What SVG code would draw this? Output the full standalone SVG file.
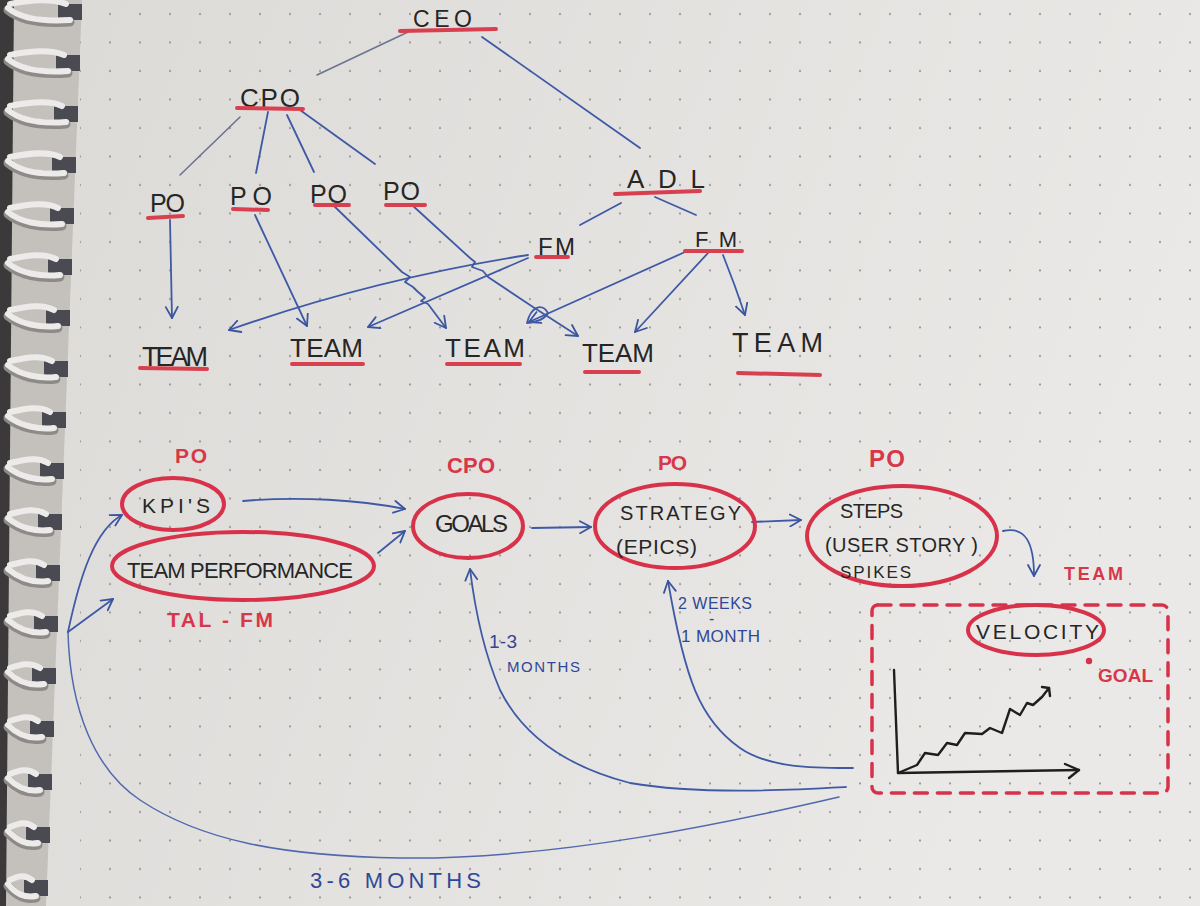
<svg xmlns="http://www.w3.org/2000/svg" width="1200" height="906" viewBox="0 0 1200 906">
<defs>
<linearGradient id="paper" x1="0" y1="0" x2="1" y2="0.3">
<stop offset="0" stop-color="#dcdad7"/>
<stop offset="1" stop-color="#ebe9e7"/>
</linearGradient>
<pattern id="dots" x="5" y="0" width="30" height="28.5" patternUnits="userSpaceOnUse">
<circle cx="15" cy="14" r="1.1" fill="#8e8b88"/>
</pattern>
<marker id="arr" viewBox="0 0 14 14" refX="12" refY="7" markerWidth="14" markerHeight="14" markerUnits="userSpaceOnUse" orient="auto">
<path d="M1,1 L12,7 L1,13" fill="none" stroke="#3a55a0" stroke-width="1.8" stroke-linecap="round" stroke-linejoin="round"/>
</marker>
<style>
.ink{font-family:"Liberation Sans",Arial,sans-serif;fill:#262626;}
.red{font-family:"Liberation Sans",Arial,sans-serif;fill:#d8374a;font-weight:bold;}
.blue{font-family:"Liberation Sans",Arial,sans-serif;fill:#2f4896;}
.ul{stroke:#d9404f;stroke-width:4;stroke-linecap:round;fill:none;}
.oval{stroke:#d8324a;stroke-width:4;fill:none;}
.ln{stroke:#3e5aa6;stroke-width:1.8;fill:none;stroke-linecap:round;stroke-linejoin:round;}
.gl{stroke:#6a7590;stroke-width:1.6;fill:none;stroke-linecap:round;}
.arrow{marker-end:url(#arr);}
.ring{stroke:#ecebe9;stroke-width:6;fill:none;stroke-linecap:round;}
.ringsh{stroke:#8d8a87;stroke-width:9;fill:none;stroke-linecap:round;}
</style>
</defs>

<!-- paper -->
<rect x="0" y="0" width="1200" height="906" fill="url(#paper)"/>
<rect x="80" y="0" width="1120" height="906" fill="url(#dots)"/>

<!-- spiral binding -->
<g id="binding">
<path d="M0,0 L82,0 L46,906 L0,906 Z" fill="#c4c1bd"/>
<path d="M0,0 L14,0 L6,906 L0,906 Z" fill="#3b393a"/>
<g>
<rect x="58" y="4" width="24" height="16" fill="#4a4a52"/>
<path class="ringsh" d="M70,22 C40,24 20,20 8,10"/><path class="ring" d="M70,20 C40,22 20,18 8,8"/><path class="ring" d="M66,4 C50,-2 30,0 10,4"/>
<rect x="56" y="55" width="24" height="16" fill="#4a4a52"/>
<path class="ringsh" d="M68,73 C40,75 20,71 8,61"/><path class="ring" d="M68,71 C40,73 20,69 8,59"/><path class="ring" d="M64,55 C50,49 30,51 10,55"/>
<rect x="54" y="106" width="24" height="16" fill="#4a4a52"/>
<path class="ringsh" d="M66,124 C40,126 20,122 8,112"/><path class="ring" d="M66,122 C40,124 20,120 8,110"/><path class="ring" d="M62,106 C50,100 30,102 10,106"/>
<rect x="52" y="157" width="24" height="16" fill="#4a4a52"/>
<path class="ringsh" d="M64,175 C40,177 20,173 8,163"/><path class="ring" d="M64,173 C40,175 20,171 8,161"/><path class="ring" d="M60,157 C48,151 30,153 10,157"/>
<rect x="50" y="208" width="24" height="16" fill="#4a4a52"/>
<path class="ringsh" d="M62,226 C40,228 20,224 8,214"/><path class="ring" d="M62,224 C40,226 20,222 8,212"/><path class="ring" d="M58,208 C46,202 30,204 10,208"/>
<rect x="48" y="259" width="24" height="16" fill="#4a4a52"/>
<path class="ringsh" d="M60,277 C40,279 20,275 8,265"/><path class="ring" d="M60,275 C40,277 20,273 8,263"/><path class="ring" d="M56,259 C44,253 30,255 10,259"/>
<rect x="46" y="310" width="24" height="16" fill="#4a4a52"/>
<path class="ringsh" d="M58,328 C40,330 20,326 8,316"/><path class="ring" d="M58,326 C40,328 20,324 8,314"/><path class="ring" d="M54,310 C42,304 30,306 10,310"/>
<rect x="44" y="361" width="24" height="16" fill="#4a4a52"/>
<path class="ringsh" d="M56,379 C40,381 20,377 8,367"/><path class="ring" d="M56,377 C40,379 20,375 8,365"/><path class="ring" d="M52,361 C40,355 30,357 10,361"/>
<rect x="42" y="412" width="24" height="16" fill="#4a4a52"/>
<path class="ringsh" d="M54,430 C40,432 20,428 8,418"/><path class="ring" d="M54,428 C40,430 20,426 8,416"/><path class="ring" d="M50,412 C40,406 28,408 10,412"/>
<rect x="40" y="463" width="24" height="16" fill="#4a4a52"/>
<path class="ringsh" d="M52,481 C38,483 20,479 8,469"/><path class="ring" d="M52,479 C38,481 20,477 8,467"/><path class="ring" d="M48,463 C38,457 28,459 10,463"/>
<rect x="38" y="514" width="24" height="16" fill="#4a4a52"/>
<path class="ringsh" d="M50,532 C36,534 20,530 8,520"/><path class="ring" d="M50,530 C36,532 20,528 8,518"/><path class="ring" d="M46,514 C36,508 26,510 10,514"/>
<rect x="36" y="565" width="24" height="16" fill="#4a4a52"/>
<path class="ringsh" d="M48,583 C34,585 20,581 8,571"/><path class="ring" d="M48,581 C34,583 20,579 8,569"/><path class="ring" d="M44,565 C34,559 26,561 10,565"/>
<rect x="34" y="616" width="24" height="16" fill="#4a4a52"/>
<path class="ringsh" d="M46,634 C32,636 20,632 8,622"/><path class="ring" d="M46,632 C32,634 20,630 8,620"/><path class="ring" d="M42,616 C32,610 24,612 10,616"/>
<rect x="32" y="668" width="24" height="16" fill="#4a4a52"/>
<path class="ringsh" d="M44,686 C30,688 18,684 8,674"/><path class="ring" d="M44,684 C30,686 18,682 8,672"/><path class="ring" d="M40,668 C30,662 22,664 10,668"/>
<rect x="30" y="721" width="24" height="16" fill="#4a4a52"/>
<path class="ringsh" d="M42,739 C30,741 18,737 8,727"/><path class="ring" d="M42,737 C30,739 18,735 8,725"/><path class="ring" d="M38,721 C30,715 22,717 10,721"/>
<rect x="28" y="774" width="24" height="16" fill="#4a4a52"/>
<path class="ringsh" d="M40,792 C28,794 18,790 8,780"/><path class="ring" d="M40,790 C28,792 18,788 8,778"/><path class="ring" d="M36,774 C28,768 20,770 10,774"/>
<rect x="26" y="827" width="24" height="16" fill="#4a4a52"/>
<path class="ringsh" d="M38,845 C26,847 18,843 8,833"/><path class="ring" d="M38,843 C26,845 18,841 8,831"/><path class="ring" d="M34,827 C26,821 20,823 10,827"/>
<rect x="24" y="880" width="24" height="16" fill="#4a4a52"/>
<path class="ringsh" d="M36,898 C24,900 16,896 8,886"/><path class="ring" d="M36,896 C24,898 16,894 8,884"/><path class="ring" d="M32,880 C24,874 18,876 10,880"/>
</g>
</g>

<!-- connectors -->
<g id="connectors">
<!-- org chart -->
<path class="gl" d="M408,32 L317,75"/>
<path class="ln" d="M482,37 L640,148"/>
<path class="gl" d="M240,117 L180,175"/>
<path class="ln" d="M268,112 L256,173"/>
<path class="ln" d="M287,115 L314,172"/>
<path class="ln" d="M300,110 L375,164"/>
<path class="ln" d="M621,203 L580,225"/>
<path class="ln" d="M655,197 L696,215"/>
<path class="ln arrow" d="M170,220 L172,318"/>
<path class="ln arrow" d="M255,215 L307,326"/>
<path class="ln arrow" d="M333,205 L402,272 L410,277 L405,282 L413,287 L417,291 L425,298 L421,301 L428,304 L446,328"/>
<path class="ln arrow" d="M412,205 L470,258 L475,262 L472,267 L483,271 L488,277 L533,307 L578,336"/>
<path class="ln arrow" d="M528,255 C420,272 320,298 229,330"/>
<path class="ln arrow" d="M528,258 L368,327"/>
<path class="ln arrow" d="M685,252 L529,322"/>
<path class="ln" d="M548,313 C542,303 531,306 527,323 C536,322 545,319 548,313"/>
<path class="ln arrow" d="M708,253 L635,332"/>
<path class="ln arrow" d="M723,255 C733,280 740,300 745,315"/>
<!-- process -->
<path class="ln arrow" d="M243,501 C300,496 360,500 405,509"/>
<path class="ln arrow" d="M378,553 L405,531"/>
<path class="ln arrow" d="M532,528 L591,527"/>
<path class="ln arrow" d="M752,522 L801,520"/>
<path class="ln arrow" d="M1003,531 C1025,526 1034,542 1034,576"/>
<path class="ln arrow" d="M846,787 C790,790 700,795 630,783 C560,765 520,730 500,690 C485,655 475,610 470,569"/>
<path class="ln arrow" d="M853,768 C820,768 770,769 740,748 C700,720 685,680 668,581"/>
<path class="ln" style="stroke:#5068ad;stroke-width:1.5" d="M839,797 C740,820 560,860 400,858 C280,856 200,840 140,800 C95,770 70,710 68,632"/>
<path class="ln arrow" d="M68,632 C80,575 95,530 122,515"/>
<path class="ln arrow" d="M68,632 L113,599"/>
</g>

<!-- org chart nodes -->
<g id="ceo"><text class="ink" x="413" y="27" font-size="23" textLength="59" lengthAdjust="spacing">CEO</text><path class="ul" d="M400,31 L496,29"/></g>
<g id="cpo"><text class="ink" x="240" y="107" font-size="26" textLength="60" lengthAdjust="spacing">CPO</text><path class="ul" d="M237,108 L303,109"/></g>
<g id="po1"><text class="ink" x="150" y="212" font-size="25" textLength="35" lengthAdjust="spacing">PO</text><path class="ul" d="M148,218 L183,216"/></g>
<g id="po2"><text class="ink" x="230" y="205" font-size="25" textLength="42" lengthAdjust="spacing">PO</text><path class="ul" d="M233,209 L268,210"/></g>
<g id="po3"><text class="ink" x="310" y="203" font-size="25" textLength="37" lengthAdjust="spacing">PO</text><path class="ul" d="M315,205 L349,205"/></g>
<g id="po4"><text class="ink" x="383" y="200" font-size="25" textLength="37" lengthAdjust="spacing">PO</text><path class="ul" d="M386,205 L425,205"/></g>
<g id="adl"><text class="ink" x="627" y="188" font-size="26" textLength="78" lengthAdjust="spacing">ADL</text><path class="ul" d="M615,194 L700,191"/></g>
<g id="fm1"><text class="ink" x="538" y="255" font-size="24" textLength="37" lengthAdjust="spacing">FM</text><path class="ul" d="M536,257 L568,257"/></g>
<g id="fm2"><text class="ink" x="695" y="247" font-size="22" textLength="42" lengthAdjust="spacing">FM</text><path class="ul" d="M685,251 L742,251"/></g>
<g id="team1"><text class="ink" x="142" y="366" font-size="27" textLength="66" lengthAdjust="spacing">TEAM</text><path class="ul" d="M140,368 L207,369"/></g>
<g id="team2"><text class="ink" x="290" y="357" font-size="26" textLength="73" lengthAdjust="spacing">TEAM</text><path class="ul" d="M292,364 L363,364"/></g>
<g id="team3"><text class="ink" x="445" y="357" font-size="26" textLength="80" lengthAdjust="spacing">TEAM</text><path class="ul" d="M447,364 L520,364"/></g>
<g id="team4"><text class="ink" x="582" y="362" font-size="26" textLength="72" lengthAdjust="spacing">TEAM</text><path class="ul" d="M585,372 L639,372"/></g>
<g id="team5"><text class="ink" x="732" y="352" font-size="27" textLength="91" lengthAdjust="spacing">TEAM</text><path class="ul" d="M738,373 L820,375"/></g>

<!-- process nodes -->
<g id="kpis">
<text class="red" x="175" y="463" font-size="21" textLength="32" lengthAdjust="spacing">PO</text>
<ellipse class="oval" cx="173" cy="504" rx="51" ry="26"/>
<text class="ink" x="142" y="513" font-size="21" textLength="68" lengthAdjust="spacing">KPI'S</text>
</g>
<g id="team-performance">
<ellipse class="oval" cx="243" cy="566" rx="131" ry="34"/>
<text class="ink" x="127" y="578" font-size="22" textLength="226" lengthAdjust="spacing">TEAM PERFORMANCE</text>
<text class="red" x="167" y="627" font-size="21" textLength="106" lengthAdjust="spacing">TAL - FM</text>
</g>
<g id="goals">
<text class="red" x="447" y="473" font-size="22" textLength="48" lengthAdjust="spacing">CPO</text>
<ellipse class="oval" cx="468" cy="526" rx="55" ry="32"/>
<text class="ink" x="435" y="532" font-size="24" textLength="73" lengthAdjust="spacing">GOALS</text>
</g>
<g id="strategy">
<text class="red" x="658" y="470" font-size="21" textLength="29" lengthAdjust="spacing">PO</text>
<ellipse class="oval" cx="675" cy="526" rx="80" ry="42"/>
<text class="ink" x="620" y="520" font-size="20" textLength="121" lengthAdjust="spacing">STRATEGY</text>
<text class="ink" x="616" y="554" font-size="21" textLength="81" lengthAdjust="spacing">(EPICS)</text>
</g>
<g id="steps">
<text class="red" x="869" y="467" font-size="24" textLength="36" lengthAdjust="spacing">PO</text>
<ellipse class="oval" cx="902" cy="536" rx="95" ry="50"/>
<text class="ink" x="840" y="518" font-size="20" textLength="63" lengthAdjust="spacing">STEPS</text>
<text class="ink" x="825" y="552" font-size="20" textLength="153" lengthAdjust="spacing">(USER STORY )</text>
<text class="ink" x="840" y="578" font-size="17" textLength="71" lengthAdjust="spacing">SPIKES</text>
</g>
<g id="team-box">
<text class="red" x="1064" y="580" font-size="18" textLength="59" lengthAdjust="spacing">TEAM</text>
<rect x="872" y="605" width="296" height="188" rx="6" fill="none" stroke="#d8324a" stroke-width="3.5" stroke-dasharray="13 10" stroke-linecap="round"/>
<ellipse class="oval" cx="1036" cy="630" rx="68" ry="25"/>
<text class="ink" x="976" y="639" font-size="21" textLength="123" lengthAdjust="spacing">VELOCITY</text>
<circle cx="1089" cy="661" r="3.2" fill="#d8324a"/>
<text class="red" x="1098" y="682" font-size="19" textLength="55" lengthAdjust="spacing">GOAL</text>
<g fill="none" stroke="#1e1e1e" stroke-width="2.4" stroke-linecap="round" stroke-linejoin="round">
<path d="M894,670 L898,773 L1079,770"/>
<path d="M1065,764 L1079,770 L1069,778"/>
<path d="M898,773 L917,765 L925,753 L938,755 L947,743 L957,745 L965,733 L982,734 L990,728 L1002,733 L1010,709 L1020,715 L1027,703 L1033,705 L1042,697 L1049,688"/>
<path d="M1042,687 L1049,688 L1050,696"/>
</g>
</g>

<!-- feedback labels -->
<g id="labels">
<text class="blue" x="489" y="648" font-size="19" textLength="28" lengthAdjust="spacing">1-3</text>
<text class="blue" x="507" y="672" font-size="15" textLength="73" lengthAdjust="spacing">MONTHS</text>
<text class="blue" font-size="16"><tspan x="678" y="609" textLength="74" lengthAdjust="spacing">2 WEEKS</tspan><tspan x="709" y="624">-</tspan><tspan x="681" y="642" font-size="17" textLength="79" lengthAdjust="spacing">1 MONTH</tspan></text>
<text class="blue" x="310" y="888" font-size="22" textLength="171" lengthAdjust="spacing">3-6 MONTHS</text>
</g>
</svg>
